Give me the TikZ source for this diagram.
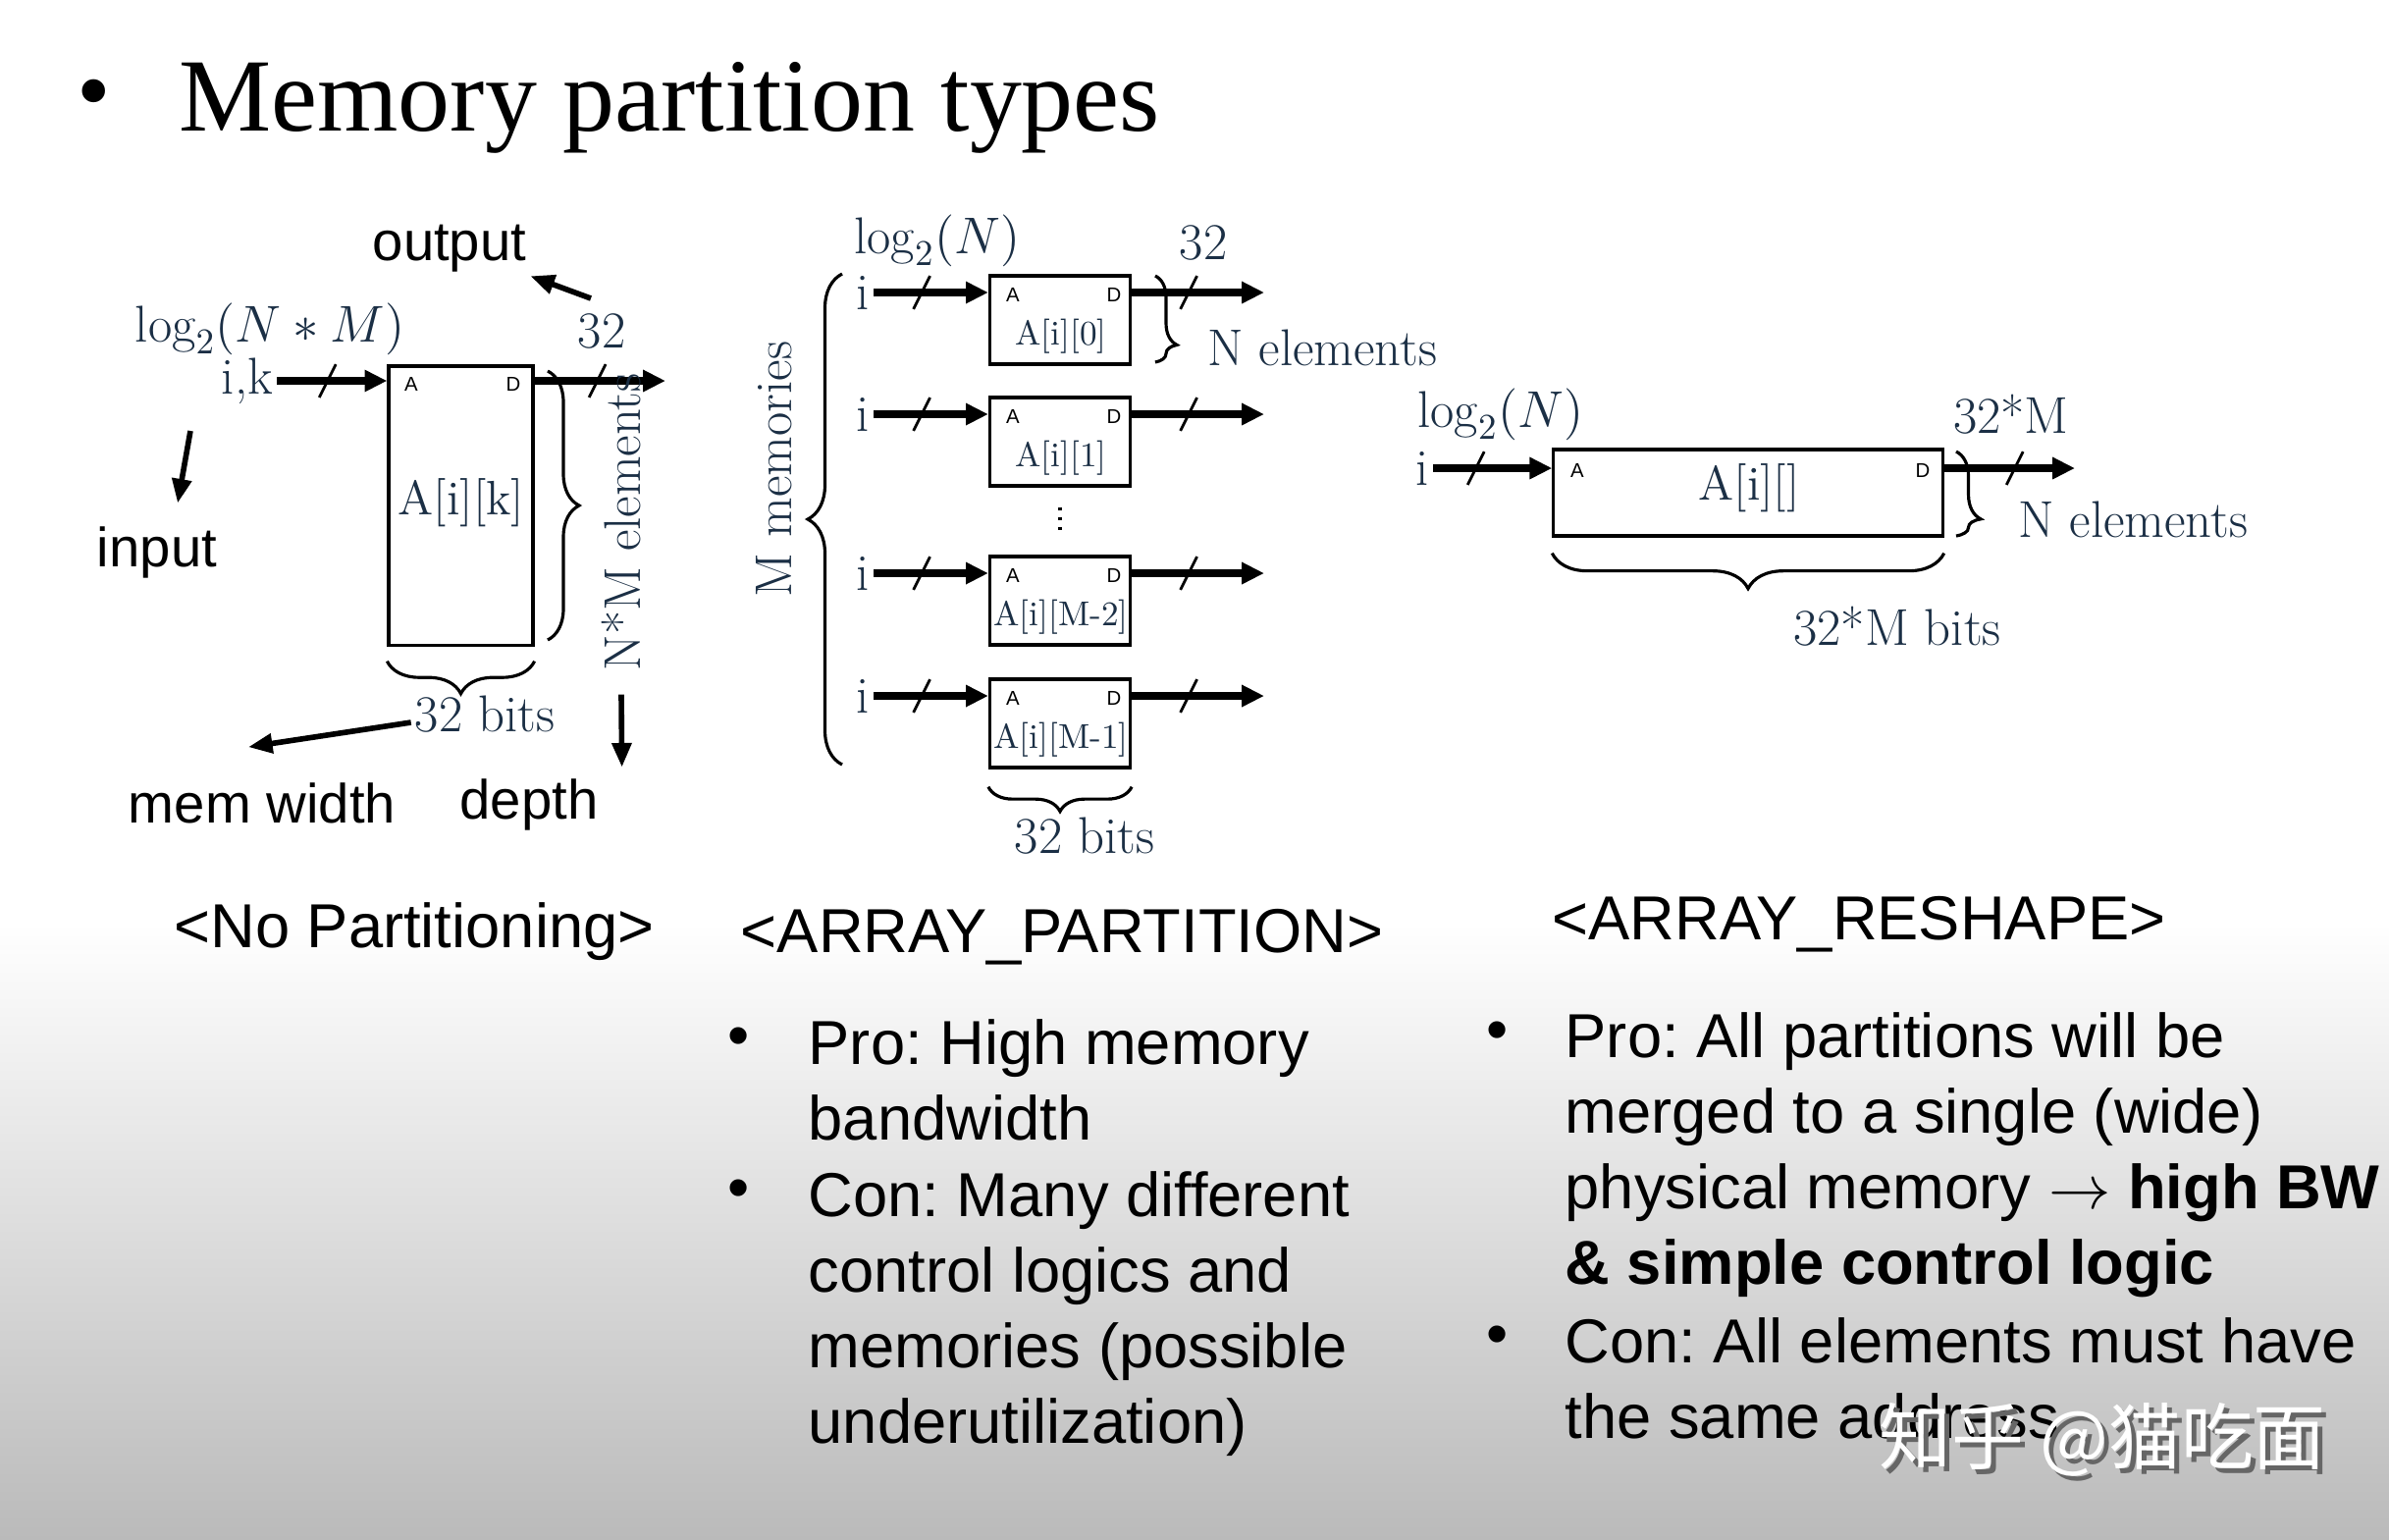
\RequirePackage{fix-cm}
\documentclass[tikz,border=0pt]{standalone}
\usepackage{fontspec}
\usepackage{amsmath}
\usetikzlibrary{arrows.meta,positioning,decorations.pathreplacing,decorations.markings}
\newfontfamily\arialf{Liberation Sans}
\newfontfamily\timesf{Liberation Serif}
\newfontfamily\cjkf{Noto Sans CJK SC}
\definecolor{ink}{HTML}{1B2F45}

\begin{document}
\frenchspacing
\begin{tikzpicture}[x=0.01cm,y=-0.01cm]
\tikzstyle{lbl}=[text=ink,font=\fontsize{15}{18}\selectfont,inner sep=1pt]
\tikzstyle{sml}=[text=ink,font=\fontsize{10}{12}\selectfont,inner sep=0pt]
\tikzstyle{pinl}=[font=\arialf\fontsize{5.8}{6}\selectfont,inner sep=0pt]
\tikzstyle{note}=[font=\arialf\fontsize{16}{19}\selectfont,inner sep=1pt]
\tikzstyle{head}=[font=\arialf\fontsize{18}{22}\selectfont,inner sep=0pt]
\tikzstyle{item}=[font=\arialf\fontsize{18}{21.9}\selectfont,align=left,anchor=north west,inner sep=0pt]
\tikzstyle{mem}=[draw,line width=0.9pt,inner sep=0pt]
\tikzstyle{ann}=[line width=1.6pt,-{Triangle[length=7pt,width=5.5pt]}]
\tikzstyle{brc}=[decorate,line width=0.9pt]
\tikzset{bus/.style={line width=2.2pt,-{Triangle[length=6.5pt,width=6pt]},postaction={decorate},
  decoration={markings,mark=at position #1 with {\draw[line width=0.8pt,-] (-2.4pt,-4.8pt) -- (2.4pt,4.8pt);}}}}

\useasboundingbox (0,0) rectangle (2434,1568);
\clip (0,0) rectangle (2434,1568);
\fill[white] (0,0) rectangle (2434,1568);
\shade[top color=white,middle color=black!14,bottom color=black!27] (0,940) rectangle (2434,1568);

% title
\node (tb) [font=\timesf\fontsize{28}{32}\selectfont] at (96,103) {•};
\node (ttl) [anchor=base west,font=\timesf\fontsize{30.1}{36}\selectfont] at (170,133) {Memory partition types};

% no partitioning
\node (m) [mem,minimum width=1.47cm,minimum height=2.84cm] at (469.5,515) {};
\node (ik) [lbl,anchor=east] at (282,388) {i,k};
\node (lg1) [lbl] at (275,335) {$\log_2(N*M)$};
\node (w1) [lbl] at (613,337) {32};
\node (a) [pinl] at (419,391) {A};
\node (d) [pinl] at (523,391) {D};
\node (t) [lbl,font=\fontsize{14}{16}\selectfont] at (470,512) {A[i][k]};
\coordinate (o) at (678,388);
\draw [bus=0.46] (ik.east) -- (m.west |- ik.east);
\draw [bus=0.48] (m.east |- ik.east) -- (o);
\draw [brc,decoration={brace,amplitude=0.32cm}] (558,378) -- (558,652);
\node (nm) [lbl,rotate=90] at (633,532) {N*M elements};
\draw [brc,decoration={brace,amplitude=0.33cm}] ([yshift=-0.15cm]m.south east) -- ([yshift=-0.15cm]m.south west);
\node (b1) [lbl] at (494,728) {32 bits};
\node (out) [note] at (458,253) {output};
\node (inp) [note] at (160,563) {input};
\node (mw) [note] at (267,818) {mem width};
\node (dep) [note] at (539,820) {depth};
\node (h1) [head] at (422,949) {<No Partitioning>};
\coordinate (ot) at (602,304);
\coordinate (it) at (194,439);
\draw [ann] (ot) -- (out.south east);
\draw [ann] (it) -- ([xshift=0.21cm,yshift=0.2cm]inp.north);
\draw [ann] ([yshift=-0.08cm]b1.west) -- ([xshift=-0.14cm,yshift=0.32cm]mw.north);
\draw [ann] ([yshift=-0.2cm]nm.west) -- ([xshift=0.2cm,yshift=0.08cm]dep.north east);

% array partition
\node (lg2) [lbl] at (955,245) {$\log_2(N)$};
\node (w2) [lbl] at (1226,247) {32};
\node (i0) [lbl,anchor=east] at (890,298) {i};
\node (m0) [mem,minimum width=1.43cm,minimum height=0.9cm] at (1080,326) {};
\node (a0) [pinl] at (1032,300) {A};
\node (d0) [pinl] at (1135,300) {D};
\node (t0) [sml] at (1081,343) {A[i][0]};
\coordinate (o0) at (1288,298);
\draw [bus=0.42] (i0.east) -- (m0.west |- i0.east);
\draw [bus=0.43] (m0.east |- i0.east) -- (o0);
\node (i1) [lbl,anchor=east] at (890,422) {i};
\node (m1) [mem,minimum width=1.43cm,minimum height=0.9cm] at (1080,450) {};
\node (a1) [pinl] at (1032,424) {A};
\node (d1) [pinl] at (1135,424) {D};
\node (t1) [sml] at (1081,467) {A[i][1]};
\coordinate (o1) at (1288,422);
\draw [bus=0.42] (i1.east) -- (m1.west |- i1.east);
\draw [bus=0.43] (m1.east |- i1.east) -- (o1);
\node (i2) [lbl,anchor=east] at (890,584) {i};
\node (m2) [mem,minimum width=1.43cm,minimum height=0.9cm] at (1080,612) {};
\node (a2) [pinl] at (1032,586) {A};
\node (d2) [pinl] at (1135,586) {D};
\node (t2) [sml] at (1081,629) {A[i][M-2]};
\coordinate (o2) at (1288,584);
\draw [bus=0.42] (i2.east) -- (m2.west |- i2.east);
\draw [bus=0.43] (m2.east |- i2.east) -- (o2);
\node (i3) [lbl,anchor=east] at (890,709) {i};
\node (m3) [mem,minimum width=1.43cm,minimum height=0.9cm] at (1080,737) {};
\node (a3) [pinl] at (1032,711) {A};
\node (d3) [pinl] at (1135,711) {D};
\node (t3) [sml] at (1081,754) {A[i][M-1]};
\coordinate (o3) at (1288,709);
\draw [bus=0.42] (i3.east) -- (m3.west |- i3.east);
\draw [bus=0.43] (m3.east |- i3.east) -- (o3);
\draw [dotted,line width=0.9pt] ([yshift=-0.2cm]m1.south) -- ([yshift=0.21cm]m2.north);
\draw [brc,decoration={brace,amplitude=0.35cm}] (858,779) -- (858,279);
\node (mm) [lbl,rotate=90] at (789,478) {M memories};
\draw [brc,decoration={brace,amplitude=0.22cm,aspect=0.8}] (1177,281) -- (1177,369);
\node (ne2) [lbl,anchor=west] at (1226,354) {N elements};
\draw [brc,decoration={brace,amplitude=0.25cm}] ([yshift=-0.18cm]m3.south east) -- ([yshift=-0.18cm]m3.south west);
\node (b2) [lbl] at (1105,852) {32 bits};
\node (h2) [head] at (1082,955) {<ARRAY\_PARTITION>};

% array reshape
\node (r) [mem,minimum width=3.96cm,minimum height=0.88cm] at (1781,502) {};
\node (ir) [lbl,anchor=east] at (1460,477) {i};
\node (lg3) [lbl] at (1529,422) {$\log_2(N)$};
\node (w3) [lbl] at (2049,422) {32*M};
\node (ar) [pinl] at (1607,479) {A};
\node (dr) [pinl] at (1959,479) {D};
\node (tr) [lbl,font=\fontsize{14}{16}\selectfont] at (1782,497) {A[i][]};
\coordinate (or) at (2114,477);
\draw [bus=0.36] (ir.east) -- (r.west |- ir.east);
\draw [bus=0.54] (r.east |- ir.east) -- (or);
\draw [brc,decoration={brace,amplitude=0.25cm,aspect=0.8}] (1993,460) -- (1993,546);
\node (ne3) [lbl,anchor=west] at (2052,529) {N elements};
\draw [brc,decoration={brace,amplitude=0.36cm}] ([yshift=-0.16cm]r.south east) -- ([yshift=-0.16cm]r.south west);
\node (b3) [lbl] at (1933,638) {32*M bits};
\node (h3) [head] at (1894,942) {<ARRAY\_RESHAPE>};

% pros and cons
\node (dp2) [head] at (753,1062) {•};
\node (p2) [item] at (823,1038) {Pro: High memory\\bandwidth};
\node (dc2) [head] at (753,1217) {•};
\node (c2) [item] at (823,1193) {Con: Many different\\control logics and\\memories (possible\\underutilization)};
\node (dp3) [head] at (1526,1056) {•};
\node (p3) [item] at (1594,1031) {Pro: All partitions will be\\merged to a single (wide)\\physical memory $\rightarrow$ \textbf{high BW}\\\textbf{\& simple control logic}};
\node (dc3) [head] at (1526,1366) {•};
\node (c3) [item] at (1594,1342) {Con: All elements must have\\the same address};

% watermark
\node (wm0) [font=\cjkf\fontsize{21}{24}\selectfont,text=black!60] at (2147,1472) {知乎 @猫吃面};
\node (wm) [font=\cjkf\fontsize{21}{24}\selectfont,text=white] at (2142,1467) {知乎 @猫吃面};
\end{tikzpicture}
\end{document}
